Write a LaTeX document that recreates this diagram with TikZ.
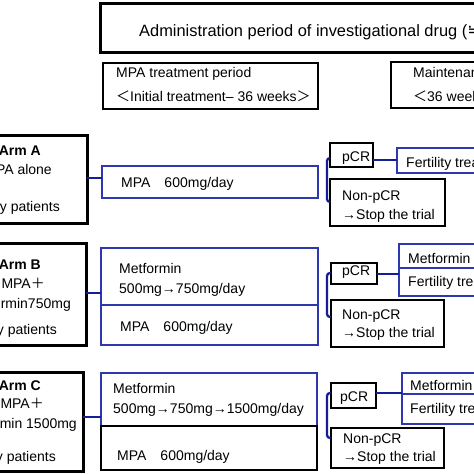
\documentclass[tikz,border=0pt]{standalone}
\usepackage{fontspec}
\setmainfont{Liberation Sans}
\newfontfamily\cjk{Noto Sans CJK JP}
\newfontfamily\djv{DejaVu Sans}
\definecolor{boxblue}{RGB}{45,55,175}
\definecolor{connblue}{RGB}{20,30,150}
\newcommand{\mybox}[6]{\node[#1,inner sep=0pt,outer sep=0pt,anchor=north west,minimum width={(#5-#3)*1pt},minimum height={(#6-#4)*1pt}] (#2) at (#3,#4) {};}
\begin{document}
\begin{tikzpicture}[x=1pt,y=-1pt,
  thickbox/.style={draw=black,line width=3pt},
  bbox/.style={draw=black,line width=1.6pt},
  bluebox/.style={draw=boxblue,line width=1.3pt},
  conn/.style={draw=connblue,line width=2.3pt},
  txt/.style={inner sep=0pt,anchor=base west,font=\fontsize{14}{16}\selectfont},
  txtr/.style={inner sep=0pt,anchor=base east,font=\fontsize{14}{16}\selectfont},
  title/.style={inner sep=0pt,anchor=base west,font=\fontsize{16.4}{18}\selectfont}]
\useasboundingbox (0,0) rectangle (474,474);
\clip (0,0) rectangle (474,474);
\fill[white] (0,0) rectangle (474,474);
% header
\mybox{thickbox}{top}{100}{3}{495}{52}
\node[title] (ttl) at (139,36) {Administration period of investigational drug ({\djv ≒}2 years)};
\mybox{bbox}{mpaper}{103}{63}{318}{109}
\node[txt] (mpaper1) at (116,77) {MPA treatment period};
\node[txt] (mpaper2) at (116,101) {{\cjk ＜}Initial treatment– 36 weeks{\cjk ＞}};
\mybox{bbox}{maint}{391}{62}{495}{108}
\node[txt] (maint1) at (413,77) {Maintenance period};
\node[txt] (maint2) at (413,101) {{\cjk ＜}36 weeks{\cjk ＞}};
% Arm A
\mybox{thickbox}{armA}{-10}{135}{87}{223}
\node[txtr,font=\fontsize{14}{16}\selectfont\bfseries] (armA1) at (41,155) {Arm A};
\node[txtr] (armA2) at (52,174) {MPA alone};
\node[txtr] (armA3) at (60,211) {Forty patients};
\mybox{bluebox}{mpaA}{102}{166}{318}{198}
\node[txt] (mpaAt) at (121,187) {MPA\hspace{1em}600mg/day};
\mybox{bbox}{pcrA}{330}{143}{373}{167}
\node[txt] (pcrAt) at (342,161) {pCR};
\mybox{bluebox}{fertA}{397}{148}{495}{173}
\node[txt] (fertAt) at (406,167) {Fertility treatment};
\mybox{bbox}{nonA}{330}{179}{445}{226}
\node[txt] (nonA1) at (342,200) {Non-pCR};
\node[txt] (nonA2) at (342,219) {→Stop the trial};
\draw[conn] (armA.east |- 0,178) -- (mpaA.west |- 0,178);
\draw[conn,rounded corners=3pt] (pcrA.west |- 0,158) -- (327,158) -- (327,202) -- (nonA.west |- 0,202);
\draw[conn] (pcrA.east |- 0,160) -- (fertA.west |- 0,160);
% Arm B
\mybox{thickbox}{armB}{-10}{243}{86}{345}
\node[txtr,font=\fontsize{14}{16}\selectfont\bfseries] (armB1) at (41,269) {Arm B};
\node[txtr] (armB2) at (45,288) {MPA{\cjk ＋}};
\node[txtr] (armB3) at (71,308) {Metformin750mg};
\node[txtr] (armB4) at (57,334) {Forty patients};
\mybox{bluebox}{metB}{101}{248}{318}{305}
\mybox{bluebox}{mpaB}{101}{305}{318}{345}
\node[txt] (metB1) at (119,273) {Metformin};
\node[txt] (metB2) at (119,293) {500mg→750mg/day};
\node[txt] (mpaBt) at (120,331) {MPA\hspace{1em}600mg/day};
\mybox{bbox}{pcrB}{331}{263}{377}{284}
\node[txt] (pcrBt) at (342,275) {pCR};
\mybox{bluebox}{rbB1}{399}{244}{495}{268}
\mybox{bluebox}{rbB2}{399}{268}{495}{296}
\node[txt] (rbB1t) at (408,263) {Metformin};
\node[txt] (rbB2t) at (408,286) {Fertility treatment};
\mybox{bbox}{nonB}{331}{300}{444}{347}
\node[txt] (nonB1) at (342,319) {Non-pCR};
\node[txt] (nonB2) at (342,337) {→Stop the trial};
\draw[conn] (armB.east |- 0,293) -- (metB.west |- 0,293);
\draw[conn,rounded corners=3pt] (pcrB.west |- 0,273) -- (327,273) -- (327,317) -- (nonB.west |- 0,317);
\draw[conn] (pcrB.east |- 0,274) -- (rbB2.west |- 0,274);
% Arm C
\mybox{thickbox}{armC}{-10}{372}{83}{471}
\node[txtr,font=\fontsize{14}{16}\selectfont\bfseries] (armC1) at (41,390) {Arm C};
\node[txtr] (armC2) at (44,408) {MPA{\cjk ＋}};
\node[txtr] (armC3) at (77,428) {Metformin 1500mg};
\node[txtr] (armC4) at (56,461) {Forty patients};
\mybox{bluebox}{metC}{101}{373}{317}{426}
\mybox{bbox}{mpaC}{101}{426}{317}{470}
\node[txt] (metC1) at (113,393) {Metformin};
\node[txt] (metC2) at (113,413) {500mg→750mg→1500mg/day};
\node[txt] (mpaCt) at (117,460) {MPA\hspace{1em}600mg/day};
\mybox{bbox}{pcrC}{331}{383}{376}{408}
\node[txt] (pcrCt) at (340,401) {pCR};
\mybox{bluebox}{rbC1}{402}{373}{495}{394}
\mybox{bluebox}{rbC2}{402}{394}{495}{424}
\node[txt] (rbC1t) at (410,390) {Metformin};
\node[txt] (rbC2t) at (410,413) {Fertility treatment};
\mybox{bbox}{nonC}{331}{428}{444}{468}
\node[txt] (nonC1) at (343,443) {Non-pCR};
\node[txt] (nonC2) at (343,461) {→Stop the trial};
\draw[conn] (armC.east |- 0,417) -- (metC.west |- 0,417);
\draw[conn,rounded corners=3pt] (pcrC.west |- 0,393) -- (327,393) -- (327,438) -- (nonC.west |- 0,438);
\draw[conn] (pcrC.east |- 0,393) -- (rbC1.west |- 0,393);
\end{tikzpicture}
\end{document}
